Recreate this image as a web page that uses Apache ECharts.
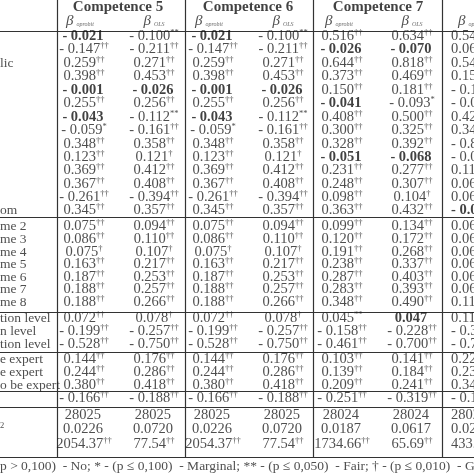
<!DOCTYPE html><html><head><meta charset="utf-8">
<script src="https://cdn.jsdelivr.net/npm/echarts@6/dist/echarts.min.js"></script>
<style>html,body{margin:0;padding:0;background:#fff}#c{width:474px;height:474px}</style></head><body><div id="c"></div>
<script>
const competences = ["Competence 5","Competence 6","Competence 7","Competence 8"];
const rowLabels = ["","","lic","","","","","","","","","","","om","me 2","me 3","me 4","me 5","me 6","me 7","me 8","tion level","n level","tion level","e expert","e expert","o be expert","","","2",""];
const c5a = ["-0.021","-0.147|††","0.259|††","0.398|††","-0.001","0.255|††","-0.043","-0.059|*","0.348|††","0.123|††","0.369|††","0.367|††","-0.261|††","0.345|††","0.075|††","0.086|††","0.075|†","0.163|††","0.187|††","0.188|††","0.188|††","0.072|††","-0.199|††","-0.528|††","0.144|††","0.244|††","0.380|††","-0.166|††","28025","0.0226","2054.37|††"];
const c5b = ["-0.100|**","-0.211|††","0.271|††","0.453|††","-0.026","0.256|††","-0.112|**","-0.161|††","0.358|††","0.121|†","0.412|††","0.408|††","-0.394|††","0.357|††","0.094|††","0.110|††","0.107|†","0.217|††","0.253|††","0.257|††","0.266|††","0.078|†","-0.257|††","-0.750|††","0.176|††","0.286|††","0.418|††","-0.188|††","28025","0.0720","77.54|††"];
const c6a = c5a.slice();
const c6b = c5b.slice();
const c7a = ["0.516|††","-0.026","0.644|††","0.373|††","0.150|††","-0.041","0.408|††","0.300|††","0.328|††","-0.051","0.231|††","0.248|††","0.098|††","0.363|††","0.099|††","0.120|††","0.191|††","0.238|††","0.287|††","0.283|††","0.348|††","0.045|**","-0.158|††","-0.461|††","0.103|††","0.139|††","0.209|††","-0.251|††","28024","0.0187","1734.66|††"];
const c7b = ["0.634|††","-0.070","0.818|††","0.469|††","0.181|††","-0.093|*","0.500|††","0.325|††","0.392|††","-0.068","0.277|††","0.307|††","0.104|†","0.432|††","0.134|††","0.172|††","0.268|††","0.337|††","0.403|††","0.393|††","0.490|††","0.047","-0.228|††","-0.700|††","0.141|††","0.184|††","0.241|††","-0.319|††","28024","0.0617","65.69|††"];
const c8a = ["0.541|††","0.062|††","0.544|††","0.151|††","-0.152|††","-0.094|††","0.421|††","0.342|††","-0.812|††","-0.061|††","0.118|††","0.061|††","0.063|††","-0.031","0.061|††","0.063|††","0.064|††","0.065|††","0.067|††","0.069|††","0.112|††","0.112|††","-0.352|††","-0.731|††","0.221|††","0.231|††","0.341|††","-0.141|††","28025","0.0211","433.12|††"];
const footer = "p > 0,100)  - No; * - (p ≤ 0,100)  - Marginal; ** - (p ≤ 0,050)  - Fair; † - (p ≤ 0,010)  - Go";

// layout
const rowY = [36,49.5,63,76.5,90,103.3,117,130.5,144,157,170.5,184,197,210,226,239,252,264.5,277,289.5,302.5,318,331.5,344.5,359,372,385,398.5,415,429,444];
const colX = [84,154,213,283,342,412,451];
const cols = [c5a,c5b,c6a,c6b,c7a,c7b,c8a];
const FONT = "Liberation Serif";
function fmt(s, stat){
  const [v, sig] = s.split("|");
  const t = v.startsWith("-") ? "- " + v.slice(1) : v;
  const bold = !sig && !stat;
  return "{" + (bold ? "b" : "n") + "|" + t + "}" + (sig ? "{s|" + sig + "}" : "{s| }");
}
const cellData = [];
cols.forEach((col, ci) => col.forEach((s, ri) => {
  cellData.push({value:[colX[ci], rowY[ri]], label:{formatter: fmt(s, ri >= 28), align: ci === 6 ? "left" : "center"}});
}));
const rich = {n:{fontFamily:FONT,fontSize:14.5,color:"#222"}, b:{fontFamily:FONT,fontSize:14.5,fontWeight:"bold",color:"#111"},
  l:{fontFamily:FONT,fontSize:13.5,color:"#222"},
  s:{fontFamily:FONT,fontSize:8.5,color:"#222",padding:[0,0,7,0]},
  beta:{fontFamily:FONT,fontSize:15,fontStyle:"italic",color:"#222"}, sub:{fontFamily:FONT,fontSize:6,fontStyle:"italic",color:"#444",padding:[6,0,0,3]},
  h:{fontFamily:FONT,fontSize:15,fontWeight:"bold",color:"#111"},
  f:{fontFamily:FONT,fontSize:13.5,color:"#222"}};
const headX = [118,248,378,520];
const headData = competences.map((c,i)=>({value:[headX[i],7],label:{formatter:"{h|"+c+"}"}}));
const betaX = [80,154,209,283,339,412,458];
const betaData = betaX.map((x,i)=>({value:[x,21],label:{formatter:"{beta|β}{sub|"+(i%2===0?"oprobit":"OLS")+"}",align:i===6?"left":"center"}}));
const labelData = rowLabels.map((t,i)=>({value:[0,rowY[i]],label:{formatter:t? (i===29?"{s|2}":"{l|"+t+"}"):""}}));
const hl = [31,217,312,352,391,407,457];
const vl = [57,185,313,442];
const lineData = hl.map(y=>({coords:[[0,y],[474,y]]})).concat(vl.map(x=>({coords:[[x,0],[x,457]]})));
function textSeries(data, align){
  return {type:"scatter",symbolSize:0,data:data,silent:true,
    label:{show:true,position:"inside",align:align,verticalAlign:"middle",rich:rich}};
}
const chart = echarts.init(document.getElementById("c"));
chart.setOption({animation:false,
  grid:{left:0,right:0,top:0,bottom:0},
  xAxis:{type:"value",min:0,max:474,show:false},
  yAxis:{type:"value",min:0,max:474,inverse:true,show:false},
  series:[
    {type:"lines",coordinateSystem:"cartesian2d",data:lineData,silent:true,lineStyle:{color:"#333",width:1.2,opacity:1}},
    textSeries(headData,"center"), textSeries(betaData,"center"), textSeries(cellData,"center"), textSeries(labelData,"left"),
    textSeries([{value:[0,466],label:{formatter:"{f|"+footer+"}"}}],"left")
  ]});
</script></body></html>
